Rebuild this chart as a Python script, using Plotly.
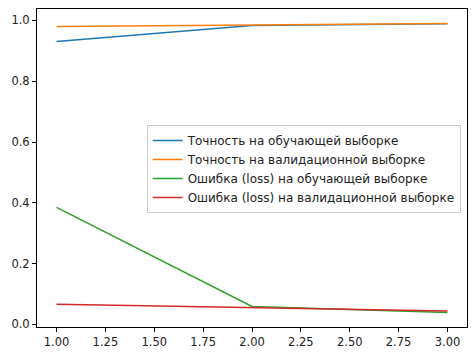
import plotly.graph_objects as go

epochs = [1, 2, 3]
train_acc = [0.931, 0.983, 0.989]
val_acc = [0.980, 0.984, 0.990]
train_loss = [0.385, 0.059, 0.039]
val_loss = [0.066, 0.056, 0.044]

names = [
    "Точность на обучающей выборке",
    "Точность на валидационной выборке",
    "Ошибка (loss) на обучающей выборке",
    "Ошибка (loss) на валидационной выборке",
]
colors = ["#1f77b4", "#ff7f0e", "#2ca02c", "#d62728"]
series = [train_acc, val_acc, train_loss, val_loss]

fig = go.Figure()
for name, ys, c in zip(names, series, colors):
    fig.add_trace(go.Scatter(x=epochs, y=ys, mode="lines", name=name,
                             line=dict(color=c, width=1.5)))

allv = [v for s in series for v in s]
lo, hi = min(allv), max(allv)
pad = (hi - lo) * 0.05
xpad = (max(epochs) - min(epochs)) * 0.05

axis_common = dict(showline=True, linecolor="black", linewidth=1, mirror=True,
                   ticks="outside", ticklen=4, tickcolor="black", showgrid=False,
                   zeroline=False, automargin=False,
                   tickfont=dict(family="DejaVu Sans", size=11.5, color="#222222"))

fig.update_layout(
    width=474, height=357,
    margin=dict(l=37, r=7, t=9, b=30),
    paper_bgcolor="white", plot_bgcolor="white",
    font=dict(family="DejaVu Sans", size=11, color="black"),
    xaxis=dict(range=[min(epochs) - xpad, max(epochs) + xpad], tickmode="array",
               tickvals=[1.0, 1.25, 1.5, 1.75, 2.0, 2.25, 2.5, 2.75, 3.0],
               ticktext=["1.00", "1.25", "1.50", "1.75", "2.00", "2.25", "2.50", "2.75", "3.00"],
               **axis_common),
    yaxis=dict(range=[lo - pad, hi + pad], tickmode="array",
               tickvals=[0.0, 0.2, 0.4, 0.6, 0.8, 1.0],
               ticktext=["0.0", "0.2", "0.4", "0.6", "0.8", "1.0"],
               **axis_common),
    legend=dict(x=0.255, y=0.635, xanchor="left", yanchor="top",
                bgcolor="rgba(255,255,255,0.8)", bordercolor="#cccccc", borderwidth=1,
                font=dict(family="DejaVu Sans", size=12, color="#222222"),
                tracegroupgap=0, itemwidth=30),
    showlegend=True,
)

fig.write_html("out.html", config={"displayModeBar": False},
               post_script="document.body.style.margin='0';")
